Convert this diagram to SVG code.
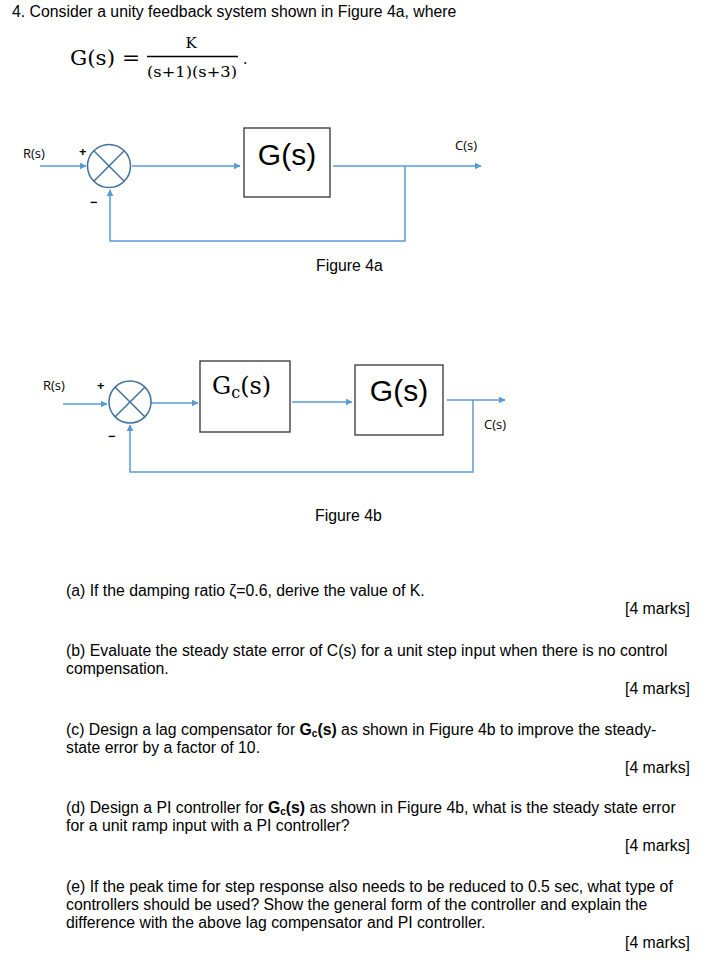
<svg xmlns="http://www.w3.org/2000/svg" width="707" height="967" viewBox="0 0 707 967">
<defs>
<marker id="ah" viewBox="0 0 10 10" refX="9" refY="5" markerWidth="7" markerHeight="7" markerUnits="userSpaceOnUse" orient="auto"><path d="M0,0 L10,5 L0,10 z" fill="#5B9BD5"/></marker>
<style>
.t{font-family:"Liberation Sans",Arial,sans-serif;font-size:15.8px;fill:#000}
.s{font-family:"Open Sans","Liberation Sans",sans-serif;font-size:13px;fill:#000}
.m{font-family:"DejaVu Serif","Liberation Serif",serif;fill:#000}
.w{stroke:#5B9BD5;stroke-width:1.5;fill:none}
.b{fill:#fff;stroke:#333;stroke-width:1.3}
.big{font-family:"Liberation Sans",Arial,sans-serif;font-size:30px;fill:#000}
</style>
</defs>
<rect width="707" height="967" fill="#fff"/>
<text class="t" x="12" y="17" font-size="16.4">4. Consider a unity feedback system shown in Figure 4a, where</text>
<text class="m" x="70" y="65" font-size="21" textLength="70" lengthAdjust="spacingAndGlyphs">G(s) =</text>
<text class="m" x="191" y="48" font-size="15" text-anchor="middle">K</text>
<line x1="147" y1="56.5" x2="238" y2="56.5" stroke="#000" stroke-width="1.3"/>
<text class="m" x="147" y="77" font-size="15" textLength="90" lengthAdjust="spacingAndGlyphs">(s+1)(s+3)</text>
<text class="m" x="243" y="64" font-size="14">.</text>

<g id="connectors">
<path class="w" d="M40,166 H86" marker-end="url(#ah)"/>
<path class="w" d="M132,166 H240" marker-end="url(#ah)"/>
<path class="w" d="M333,166 H481" marker-end="url(#ah)"/>
<path class="w" d="M405,166 V241 H110 V190" marker-end="url(#ah)"/>
<path class="w" d="M63,404 H107" marker-end="url(#ah)"/>
<path class="w" d="M151,403 H198" marker-end="url(#ah)"/>
<path class="w" d="M292,402 H352" marker-end="url(#ah)"/>
<path class="w" d="M447,400 H505" marker-end="url(#ah)"/>
<path class="w" d="M473,400 V472 H130 V425" marker-end="url(#ah)"/>
</g>

<g id="sum1">
<circle cx="109" cy="166" r="21.5" fill="#fff" stroke="#41719C" stroke-width="1.5"/>
<path d="M93.8,150.8 L124.2,181.2 M124.2,150.8 L93.8,181.2" stroke="#41719C" stroke-width="1.5"/>
<text class="s" x="23" y="158">R(s)</text>
<text class="s" x="79" y="156" font-size="12" font-weight="bold">+</text>
<text class="s" x="90" y="207" font-size="14" font-weight="bold">−</text>
</g>
<g id="G1">
<rect class="b" x="244" y="128" width="86" height="69"/>
<text class="big" x="287" y="165" text-anchor="middle">G(s)</text>
</g>
<text class="s" x="455" y="150">C(s)</text>
<text class="t" x="316" y="271" font-size="15">Figure 4a</text>

<g id="sum2">
<circle cx="130" cy="402" r="21" fill="#fff" stroke="#41719C" stroke-width="1.5"/>
<path d="M115.2,387.2 L144.8,416.8 M144.8,387.2 L115.2,416.8" stroke="#41719C" stroke-width="1.5"/>
<text class="s" x="43" y="390">R(s)</text>
<text class="s" x="97" y="390" font-size="12" font-weight="bold">+</text>
<text class="s" x="108" y="441" font-size="14" font-weight="bold">−</text>
</g>
<g id="Gc">
<rect class="b" x="200" y="361" width="90" height="71"/>
<text class="m" x="212" y="394" font-size="24">G<tspan font-size="16" dy="4">c</tspan><tspan dy="-4">(s)</tspan></text>
</g>
<g id="G2">
<rect class="b" x="355" y="365" width="88" height="70"/>
<text class="big" x="399" y="401" text-anchor="middle">G(s)</text>
</g>
<text class="s" x="484" y="429">C(s)</text>
<text class="t" x="315" y="521" font-size="15">Figure 4b</text>

<text class="t" x="66" y="596">(a) If the damping ratio ζ=0.6, derive the value of K.</text>
<text class="t" x="690" y="614" text-anchor="end">[4 marks]</text>
<text class="t" x="66" y="656">(b) Evaluate the steady state error of C(s) for a unit step input when there is no control</text>
<text class="t" x="66" y="674">compensation.</text>
<text class="t" x="690" y="694" text-anchor="end">[4 marks]</text>
<text class="t" x="66" y="735">(c) Design a lag compensator for <tspan font-weight="bold">G<tspan font-size="10" dy="2">c</tspan><tspan dy="-2">(s)</tspan></tspan> as shown in Figure 4b to improve the steady-</text>
<text class="t" x="66" y="753">state error by a factor of 10.</text>
<text class="t" x="690" y="773" text-anchor="end">[4 marks]</text>
<text class="t" x="66" y="813">(d) Design a PI controller for <tspan font-weight="bold">G<tspan font-size="10" dy="2">c</tspan><tspan dy="-2">(s)</tspan></tspan> as shown in Figure 4b, what is the steady state error</text>
<text class="t" x="66" y="831">for a unit ramp input with a PI controller?</text>
<text class="t" x="690" y="851" text-anchor="end">[4 marks]</text>
<text class="t" x="66" y="892">(e) If the peak time for step response also needs to be reduced to 0.5 sec, what type of</text>
<text class="t" x="66" y="910">controllers should be used? Show the general form of the controller and explain the</text>
<text class="t" x="66" y="928">difference with the above lag compensator and PI controller.</text>
<text class="t" x="690" y="948" text-anchor="end">[4 marks]</text>
</svg>
